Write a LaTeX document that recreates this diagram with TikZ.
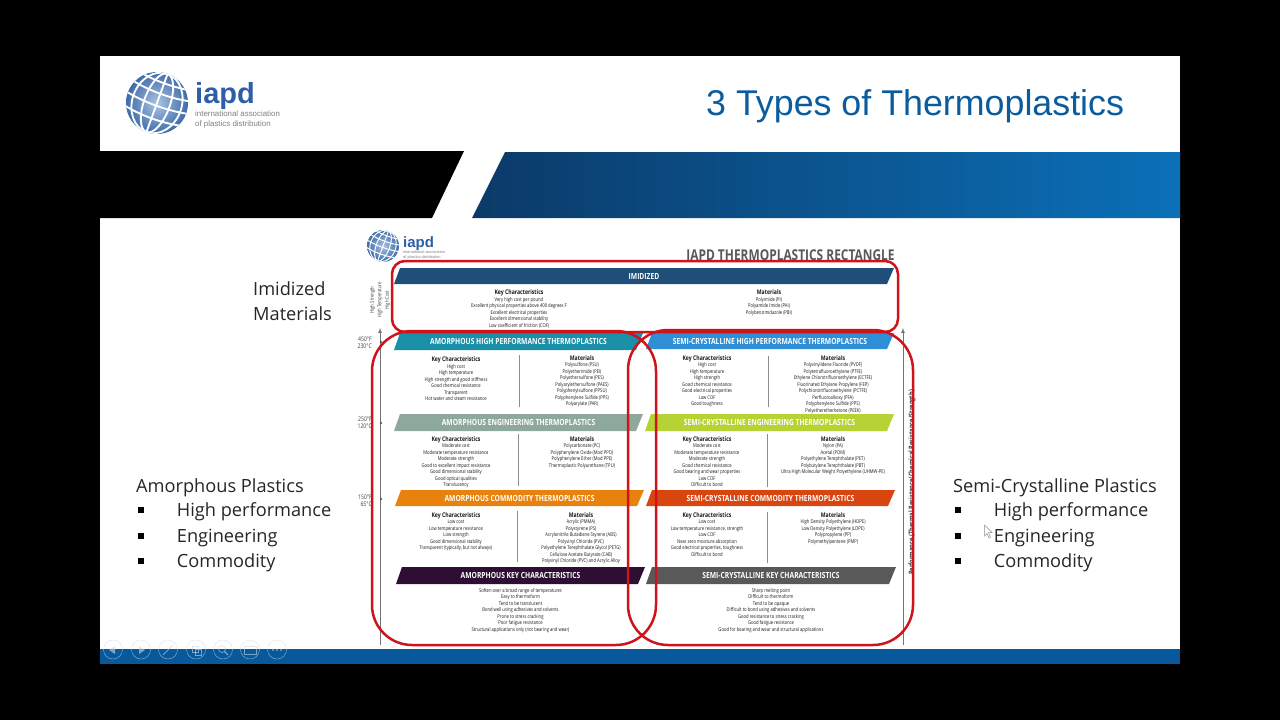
\documentclass[tikz,border=0pt]{standalone}
\usepackage{fontspec}
\usepackage{tikz}
\usetikzlibrary{arrows}
\usetikzlibrary{positioning}
\newfontfamily\condfont[FakeStretch=0.8]{Open Sans}
\newfontfamily\labelfont{Open Sans}
\newfontfamily\arialfont{Liberation Sans}
\definecolor{slideblue}{HTML}{07599B}
\definecolor{bandleft}{HTML}{0B3A68}
\definecolor{bandright}{HTML}{0B70B8}
\definecolor{titleblue}{HTML}{0A5C9E}
\definecolor{logoblue}{HTML}{2F5EA8}
\definecolor{globeinner}{HTML}{A9C3E4}
\definecolor{globeouter}{HTML}{3F6CA8}
\definecolor{loopred}{HTML}{D0121B}
\definecolor{controlgrey}{HTML}{C9D8E6}
\definecolor{imidblue}{HTML}{1F4E79}
\definecolor{ampteal}{HTML}{1A8FA8}
\definecolor{semblue}{HTML}{2E8FD6}
\definecolor{ampgreen}{HTML}{8FA89C}
\definecolor{semgreen}{HTML}{B5D334}
\definecolor{amporange}{HTML}{E8820C}
\definecolor{semorange}{HTML}{D9450F}
\definecolor{ampdark}{HTML}{2E0F33}
\definecolor{semgrey}{HTML}{58595B}
\tikzset{
  ribbontext/.style={text=white, inner sep=0pt, font=\condfont\bfseries\fontsize{8.4}{9}\selectfont},
  bodytext/.style={align=center, inner sep=0pt, anchor=north, text=black!90, font=\condfont\fontsize{5.2}{6.5}\selectfont},
  sidetext/.style={anchor=base west, inner sep=0pt, text=black!85, font=\labelfont\fontsize{18.2}{20}\selectfont},
  listbullet/.style={fill=black, inner sep=0pt, minimum size=6pt},
  temptext/.style={inner sep=0pt, anchor=east, text=black!75, font=\condfont\fontsize{6.4}{7}\selectfont},
  redloop/.style={draw=loopred, line width=2.5pt},
  divider/.style={draw=black!45, line width=0.6pt},
  axisline/.style={draw=black!55, line width=0.7pt, -latex},
  controlbutton/.style={draw=controlgrey, line width=0.5pt, circle, minimum size=19pt, inner sep=0pt, opacity=0.6},
  controlglyph/.style={controlgrey, opacity=0.6},
}
\newcommand{\headtext}[1]{{\bfseries\fontsize{6.4}{6.5}\selectfont #1}}
\newcommand{\ribbon}[7]{
  \fill [#6] (#2,#5) -- (#2+6,#4) -- (#3,#4) -- (#3-7,#5) -- cycle;
  \node [ribbontext] (#1) at ({(#2+#3)/2},{(#4+#5)/2}) {#7};
}
\newcommand{\globe}[4]{
  \node [circle, inner sep=0pt, minimum size={2*#4pt}, inner color=globeinner, outer color=globeouter] (#1) at (#2,#3) {};
  \begin{scope}[shift={(#1.center)}, x=#4pt, y=#4pt, rotate=-20, draw=white, line width={0.06*#4pt}]
    \clip (0,0) circle (1);
    \draw (0,-1) -- (0,1);
    \draw (0,0) ellipse (0.42 and 1);
    \draw (0,0) ellipse (0.8 and 1);
    \draw (-1,0) .. controls (-0.4,-0.12) and (0.4,-0.12) .. (1,0);
    \draw (-1,0.42) .. controls (-0.4,0.28) and (0.4,0.28) .. (1,0.42);
    \draw (-1,-0.42) .. controls (-0.4,-0.56) and (0.4,-0.56) .. (1,-0.42);
    \draw (-1,0.78) .. controls (-0.4,0.64) and (0.4,0.64) .. (1,0.78);
  \end{scope}
}
\begin{document}
\begin{tikzpicture}[x=1pt, y=-1pt]
  \useasboundingbox (0,0) rectangle (1280,720);
  \fill [black] (0,0) rectangle (1280,720);
  \fill [white] (100,56) rectangle (1180,664);

  \fill [black] (100,151) -- (464,151) -- (432,218) -- (100,218) -- cycle;
  \shade [left color=bandleft, right color=bandright] (505,152) -- (1180,152) -- (1180,218) -- (472,218) -- cycle;
  \fill [slideblue] (100,649) rectangle (1180,664);

  \node [anchor=base west, inner sep=0pt, text=titleblue, font=\arialfont\fontsize{35.8}{40}\selectfont] (title) at (706,115) {3 Types of Thermoplastics};

  \globe{biglogo}{157}{103}{31}
  \node [anchor=base west, inner sep=0pt, text=logoblue, font=\arialfont\bfseries\fontsize{29}{30}\selectfont] (bigiapd) at (195,103) {iapd};
  \node [anchor=north west, inner sep=0pt, align=left, text=black!50, font=\arialfont\fontsize{7.9}{10}\selectfont] (bigname) at (195,111) {international association\\of plastics distribution};

  \globe{smalllogo}{383}{246}{16}
  \node [anchor=base west, inner sep=0pt, text=logoblue, font=\arialfont\bfseries\fontsize{15}{16}\selectfont] (smalliapd) at (403,247) {iapd};
  \node [anchor=north west, inner sep=0pt, align=left, text=black!50, font=\arialfont\fontsize{3.9}{5}\selectfont] (smallname) at (403,250) {international association\\of plastics distribution};

  \node [inner sep=0pt, text=black!65, font=\condfont\bfseries\fontsize{14.9}{16}\selectfont] (rectangletitle) at (790.5,255) {IAPD THERMOPLASTICS RECTANGLE};

  \ribbon{imidized}{394}{894}{268}{284}{imidblue}{IMIDIZED}
  \ribbon{amphigh}{394}{643}{333}{350}{ampteal}{AMORPHOUS HIGH PERFORMANCE THERMOPLASTICS}
  \ribbon{semhigh}{646}{894}{333}{349}{semblue}{SEMI-CRYSTALLINE HIGH PERFORMANCE THERMOPLASTICS}
  \ribbon{ampeng}{394}{643}{414}{431}{ampgreen}{AMORPHOUS ENGINEERING THERMOPLASTICS}
  \ribbon{semeng}{645}{894}{414}{431}{semgreen}{SEMI-CRYSTALLINE ENGINEERING THERMOPLASTICS}
  \ribbon{ampcom}{395}{644}{490}{506}{amporange}{AMORPHOUS COMMODITY THERMOPLASTICS}
  \ribbon{semcom}{646}{895}{490}{506}{semorange}{SEMI-CRYSTALLINE COMMODITY THERMOPLASTICS}
  \ribbon{ampkey}{396}{645}{567}{584}{ampdark}{AMORPHOUS KEY CHARACTERISTICS}
  \ribbon{semkey}{646}{896}{567}{584}{semgrey}{SEMI-CRYSTALLINE KEY CHARACTERISTICS}

  \node [bodytext] (imidkeytext) at (519,289.5) {\headtext{Key Characteristics}\\Very high cost per pound\\Excellent physical properties above 400 degrees F\\Excellent electrical properties\\Excellent dimensional stability\\Low coefficient of friction (COF)};
  \node [bodytext] (imidmattext) at (769,289.5) {\headtext{Materials}\\Polyimide (PI)\\Polyamide Imide (PAI)\\Polybenzimidazole (PBI)};

  \node [bodytext] (amphighkey) at (456,356.5) {\headtext{Key Characteristics}\\High cost\\High temperature\\High strength and good stiffness\\Good chemical resistance\\Transparent\\Hot water and steam resistance};
  \node [bodytext] (amphighmat) at (582,355) {\headtext{Materials}\\Polysulfone (PSU)\\Polyetherimide (PEI)\\Polyethersulfone (PES)\\Polyarylethersulfone (PAES)\\Polyphenylsulfone (PPSU)\\Polyphenylene Sulfide (PPS)\\Polyarylate (PAR)};
  \node [bodytext] (semhighkey) at (707,355) {\headtext{Key Characteristics}\\High cost\\High temperature\\High strength\\Good chemical resistance\\Good electrical properties\\Low COF\\Good toughness};
  \node [bodytext] (semhighmat) at (833,355) {\headtext{Materials}\\Polyvinylidene Fluoride (PVDF)\\Polytetrafluoroethylene (PTFE)\\Ethylene Chlorotrifluoroethylene (ECTFE)\\Fluorinated Ethylene Propylene (FEP)\\Polychlorotrifluoroethylene (PCTFE)\\Perfluoroalkoxy (PFA)\\Polyphenylene Sulfide (PPS)\\Polyetheretherketone (PEEK)};

  \node [bodytext] (ampengkey) at (456,436) {\headtext{Key Characteristics}\\Moderate cost\\Moderate temperature resistance\\Moderate strength\\Good to excellent impact resistance\\Good dimensional stability\\Good optical qualities\\Translucency};
  \node [bodytext] (ampengmat) at (582,436) {\headtext{Materials}\\Polycarbonate (PC)\\Polyphenylene Oxide (Mod PPO)\\Polyphenylene Ether (Mod PPE)\\Thermoplastic Polyurethane (TPU)};
  \node [bodytext] (semengkey) at (707,436) {\headtext{Key Characteristics}\\Moderate cost\\Moderate temperature resistance\\Moderate strength\\Good chemical resistance\\Good bearing and wear properties\\Low COF\\Difficult to bond};
  \node [bodytext] (semengmat) at (833,436) {\headtext{Materials}\\Nylon (PA)\\Acetal (POM)\\Polyethylene Terephthalate (PET)\\Polybutylene Terephthalate (PBT)\\Ultra High Molecular Weight Polyethylene (UHMW-PE)};

  \node [bodytext] (ampcomkey) at (456,512) {\headtext{Key Characteristics}\\Low cost\\Low temperature resistance\\Low strength\\Good dimensional stability\\Transparent (typically, but not always)};
  \node [bodytext] (ampcommat) at (581,512) {\headtext{Materials}\\Acrylic (PMMA)\\Polystyrene (PS)\\Acrylonitrile Butadiene Styrene (ABS)\\Polyvinyl Chloride (PVC)\\Polyethylene Terephthalate Glycol (PETG)\\Cellulose Acetate Butyrate (CAB)\\Polyvinyl Chloride (PVC) and Acrylic Alloy};
  \node [bodytext] (semcomkey) at (707,512) {\headtext{Key Characteristics}\\Low cost\\Low temperature resistance, strength\\Low COF\\Near zero moisture absorption\\Good electrical properties, toughness\\Difficult to bond};
  \node [bodytext] (semcommat) at (833,512) {\headtext{Materials}\\High Density Polyethylene (HDPE)\\Low Density Polyethylene (LDPE)\\Polypropylene (PP)\\Polymethylpentene (PMP)};

  \node [bodytext, below = 9.5pt of ampkey] (ampkeytext) {Soften over a broad range of temperatures\\Easy to thermoform\\Tend to be translucent\\Bond well using adhesives and solvents\\Prone to stress cracking\\Poor fatigue resistance\\Structural applications only (not bearing and wear)};
  \node [bodytext, below = 9.5pt of semkey] (semkeytext) {Sharp melting point\\Difficult to thermoform\\Tend to be opaque\\Difficult to bond using adhesives and solvents\\Good resistance to stress cracking\\Good fatigue resistance\\Good for bearing and wear and structural applications};

  \coordinate (sep1a) at (519,355); \coordinate (sep1b) at (519,407);
  \coordinate (sep2a) at (768,356); \coordinate (sep2b) at (768,407);
  \coordinate (sep3a) at (518,434); \coordinate (sep3b) at (518,486);
  \coordinate (sep4a) at (767,434); \coordinate (sep4b) at (767,487);
  \coordinate (sep5a) at (517,511); \coordinate (sep5b) at (517,562);
  \coordinate (sep6a) at (767,512); \coordinate (sep6b) at (767,563);
  \foreach \n in {1,...,6}
    \draw [divider] (sep\n a) -- (sep\n b);

  \coordinate (leftbase) at (380,645);
  \coordinate (lefttip) at (380,328);
  \coordinate (rightbase) at (903,645);
  \coordinate (righttip) at (903,328);
  \draw [axisline] (leftbase) -- (lefttip);
  \draw [axisline] (rightbase) -- (righttip);
  \foreach \y in {342,423,499}
    \fill [black!70] (380,\y-1.5) -- (382.5,\y) -- (380,\y+1.5) -- cycle;

  \node [temptext] (hightempf) at (372,339) {450°F};
  \node [temptext] (hightempc) at (372,346) {230°C};
  \node [temptext] (midtempf) at (372,419) {250°F};
  \node [temptext] (midtempc) at (372,426) {120°C};
  \node [temptext] (lowtempf) at (372,497) {150°F};
  \node [temptext] (lowtempc) at (372,504) {65°C};

  \node [rotate=90, align=center, inner sep=0pt, text=black!75, font=\condfont\fontsize{5.3}{7.5}\selectfont] (leftaxislabel) at (380,300) {High Strength\\High Temperature\\High Cost};
  \node [rotate=90, anchor=west, inner sep=0pt, text=black!75, font=\condfont\bfseries\fontsize{7.1}{8}\selectfont] (rightaxislabel) at (912,575) {Performance (Thermal Resistance/Chemical Resistance/Strength)};

  \draw [redloop, rounded corners=13pt] (392,261) rectangle (898,332);
  \draw [redloop, rounded corners=40pt] (372,331) rectangle (656,645);
  \draw [redloop, rounded corners=40pt] (628,330) rectangle (913,645);

  \node [sidetext, align=left, anchor=north west] (imidlabel) at (253,281.5) {Imidized\\[5pt]Materials};

  \node [sidetext] (amptitle) at (136,492) {Amorphous Plastics};
  \node [listbullet] (ampb1) at (141,510) {};
  \node [listbullet, below = 20pt of ampb1] (ampb2) {};
  \node [listbullet, below = 18.5pt of ampb2] (ampb3) {};
  \node [sidetext, anchor=west, right = 32.5pt of ampb1, yshift=-1.5pt] (amphightext) {High performance};
  \node [sidetext, anchor=west, right = 32.5pt of ampb2, yshift=-1.5pt] (ampengtext) {Engineering};
  \node [sidetext, anchor=west, right = 32.5pt of ampb3, yshift=-1.5pt] (ampcomtext) {Commodity};

  \node [sidetext] (semtitle) at (953,492) {Semi-Crystalline Plastics};
  \node [listbullet] (semb1) at (958,510) {};
  \node [listbullet, below = 20pt of semb1] (semb2) {};
  \node [listbullet, below = 18.5pt of semb2] (semb3) {};
  \node [sidetext, anchor=west, right = 32.5pt of semb1, yshift=-1.5pt] (semhightext) {High performance};
  \node [sidetext, anchor=west, right = 32.5pt of semb2, yshift=-1.5pt] (semengtext) {Engineering};
  \node [sidetext, anchor=west, right = 32.5pt of semb3, yshift=-1.5pt] (semcomtext) {Commodity};

  \draw [fill=white, draw=black!45, line width=0.5pt] (984.5,525) -- (984.5,536) -- (987,533.5) -- (989,538) -- (990.5,537) -- (988.5,532.5) -- (992,532.5) -- cycle;

  \foreach \n/\x in {back/113,next/141,pen/168,slides/196,zoom/223,screen/250,more/277}
    \node [controlbutton] (\n) at (\x,649.5) {};
  \fill [controlglyph] (109,650) -- (115,646) -- (115,654) -- cycle;
  \fill [controlglyph] (145,650) -- (139,646) -- (139,654) -- cycle;
  \draw [controlglyph, line width=1pt] (163,655) -- (173,645);
  \draw [controlglyph, line width=0.7pt] (192,646) rectangle (198,652);
  \draw [controlglyph, line width=0.7pt] (195,649) rectangle (201,655);
  \draw [controlglyph, line width=0.7pt] (222,649) circle (3.5pt);
  \draw [controlglyph, line width=1.1pt] (224.5,651.5) -- (228,655);
  \draw [controlglyph, line width=0.7pt] (244,646) rectangle (256,654);
  \foreach \x in {273,277,281}
    \fill [controlglyph] (\x,650) circle (1.2pt);
\end{tikzpicture}
\end{document}
